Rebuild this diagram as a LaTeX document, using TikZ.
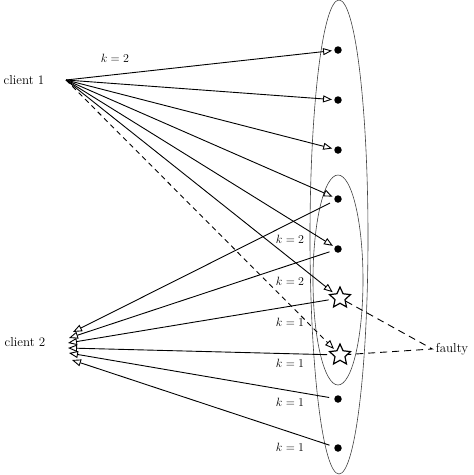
\documentclass[tikz,border=0pt]{standalone}
\usetikzlibrary{shapes.geometric}
\usetikzlibrary{arrows.meta}

\begin{document}
\begin{tikzpicture}[x=1pt, y=-1pt, font=\fontsize{13}{15}\selectfont,
  dot/.style={circle, fill, inner sep=0pt, minimum size=7.5pt},
  bad/.style={star, star points=5, star point ratio=2.1, draw, line width=1.2pt, inner sep=0pt, minimum size=22pt},
  hop/.style={line width=0.9pt, -{Triangle[open, length=9pt, width=7pt]}},
  ring/.style={draw=black!75, line width=0.6pt}]
  \useasboundingbox (0,0) rectangle (474,475);
  \draw[ring] (339,237) ellipse (29 and 237);
  \draw[ring] (338,280) ellipse (25 and 105);
  \foreach \n/\y in {d1/50, d2/100, d3/150, d4/199, d5/249, d6/399, d7/448}
    \node[dot] (\n) at (338,\y) {};
  \node[bad] (s1) at (340,298) {};
  \node[bad] (s2) at (340,355) {};
  \node (c1) at (24,80) {client 1};
  \node (c2) at (25,342) {client 2};
  \node (f) at (452,349) {faulty};
  \coordinate (o1) at (66,80);
  % arrow tips at client 2
  \coordinate (e1) at (73,332);
  \coordinate (e2) at (69,338);
  \coordinate (e3) at (68,343);
  \coordinate (e4) at (68,348);
  \coordinate (e5) at (69,353);
  \coordinate (e6) at (72,360);
  \foreach \n in {d1,d2,d3,d4,d5,s1}
    \draw[hop, shorten >=2pt] (o1) -- (\n);
  \draw[hop, dash pattern=on 5pt off 4pt, shorten >=2pt] (o1) -- (s2);
  \foreach \n/\e in {d4/e1, d5/e2, s1/e3, s2/e4, d6/e5, d7/e6}
    \draw[hop, shorten <=5pt] (\n) -- (\e);
  \draw[line width=0.9pt, dash pattern=on 7pt off 5pt] (s1) -- (f.west) -- (s2);
  \node (l0) at (115,58) {$k=2$};
  \foreach \y/\t in {239/2, 281/2, 322/1, 363/1, 402/1, 447/1}
    \node (l\y) at (290,\y) {$k=\t$};
\end{tikzpicture}
\end{document}
